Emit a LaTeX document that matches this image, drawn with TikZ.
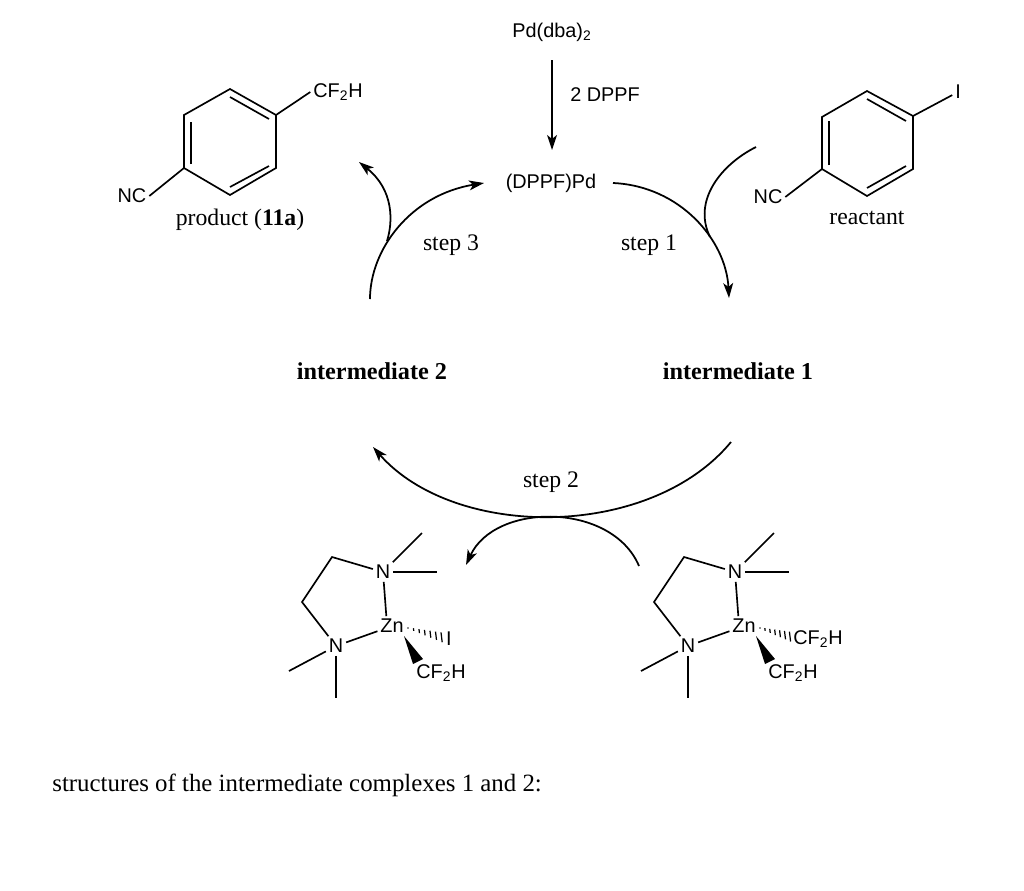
\documentclass[tikz,border=0pt]{standalone}
\usepackage{fontspec}
\setmainfont{Liberation Serif}
\setsansfont{Liberation Sans}
\usetikzlibrary{arrows.meta}
\tikzset{
    atom/.style={font=\sffamily\fontsize{11.3}{13}\selectfont, inner sep=1.5pt},
    serif/.style={font=\fontsize{13.5}{16}\selectfont, inner sep=0pt},
    boldserif/.style={font=\bfseries\fontsize{13.8}{16}\selectfont, inner sep=0pt},
    bond/.style={line width=0.95pt},
    hash/.style={line width=0.7pt},
    curved/.style={line width=1pt, -{Stealth[length=8.5pt, width=5.6pt, inset=2.2pt]}},
    plain/.style={line width=1pt}
}
\begin{document}
\begin{tikzpicture}[x=0.02cm, y=-0.02cm]
    \useasboundingbox (0,0) rectangle (1024,890);

    % Catalyst and cycle labels
    \node[atom] (pddba) at (552,32) {Pd(dba)\textsubscript{2}};
    \node[atom] (dppfpd) at (551,183) {(DPPF)Pd};
    \node[atom] (dppf) at (605,95) {2 DPPF};
    \node[serif] (stepone) at (649,245) {step 1};
    \node[serif] (steptwo) at (551,482) {step 2};
    \node[serif] (stepthree) at (451,245) {step 3};
    \node[boldserif] (inttwo) at (372,371) {intermediate 2};
    \node[boldserif] (intone) at (738,371) {intermediate 1};
    \node[serif, anchor=west, font=\fontsize{14.15}{16}\selectfont] (caption) at (52,785) {structures of the intermediate complexes 1 and 2:};

    % Cycle arrows
    \coordinate (dbastart) at (552,60);
    \coordinate (dbaend) at (552,150);
    \coordinate (onestart) at (613,183);
    \coordinate (oneend) at (729,298);
    \coordinate (threestart) at (370,299);
    \coordinate (threeend) at (484,183);
    \coordinate (prodstart) at (387,241);
    \coordinate (prodend) at (359,162);
    \coordinate (reactstart) at (756,147);
    \coordinate (reactend) at (710,237);
    \coordinate (twostart) at (731,442);
    \coordinate (twoend) at (373,447);
    \coordinate (zincstart) at (639,566);
    \coordinate (zincend) at (466,565);
    \draw[curved] (dbastart) -- (dbaend);
    \draw[curved] (onestart) .. controls (680,186) and (726,240) .. (oneend);
    \draw[plain] (reactstart) .. controls (722,164) and (692,200) .. (reactend);
    \draw[curved] (threestart) .. controls (370,250) and (410,195) .. (threeend);
    \draw[curved] (prodstart) .. controls (393,222) and (394,190) .. (prodend);
    \draw[curved] (twostart) .. controls (650,540) and (455,540) .. (twoend);
    \draw[curved] (zincstart) .. controls (612,502) and (495,502) .. (zincend);

    % Product ring
    \foreach \n/\x/\y in {a/230/89, b/276/115, c/276/168, d/230/195, e/184/168, f/184/115,
        g/230/97, h/269/119, i/269/166, j/230/187, k/191/164, l/191/122}
        \coordinate (pr\n) at (\x,\y);
    \node[atom] (prodcf) at (338,92) {CF\textsubscript{2}H};
    \node[atom] (prodnc) at (132,196) {NC};
    \node[serif] (product) at (240,220) {product (\textbf{11a})};
    \draw[bond] (pra) -- (prb) -- (prc) -- (prd) -- (pre) -- (prf) -- cycle;
    \draw[bond] (prg) -- (prh);
    \draw[bond] (pri) -- (prj);
    \draw[bond] (prk) -- (prl);
    \draw[bond] (prb) -- (prodcf.west);
    \draw[bond] (pre) -- (prodnc.east);

    % Reactant ring
    \foreach \n/\x/\y in {a/867/91, b/913/116, c/913/169, d/867/196, e/822/169, f/822/117,
        g/867/99, h/906/121, i/906/166, j/867/188, k/829/165, l/829/121}
        \coordinate (re\n) at (\x,\y);
    \node[atom] (reactiod) at (958,92) {I};
    \node[atom] (reactnc) at (768,197) {NC};
    \node[serif] (reactant) at (867,218) {reactant};
    \draw[bond] (rea) -- (reb) -- (rec) -- (red) -- (ree) -- (ref) -- cycle;
    \draw[bond] (reg) -- (reh);
    \draw[bond] (rei) -- (rej);
    \draw[bond] (rek) -- (rel);
    \draw[bond] (reb) -- (reactiod);
    \draw[bond] (ree) -- (reactnc.east);

    % Intermediate 2 complex
    \node[atom] (ltopn) at (383,572) {N};
    \node[atom] (lzn) at (392,626) {Zn};
    \node[atom] (lbotn) at (336,646) {N};
    \node[atom] (liod) at (449,639) {I};
    \node[atom] (lcf) at (441,673) {CF\textsubscript{2}H};
    \coordinate (lca) at (332,557);
    \coordinate (lcb) at (302,602);
    \coordinate (lmea) at (422,533);
    \coordinate (lmeb) at (437,572);
    \coordinate (lmec) at (289,671);
    \coordinate (lmed) at (336,698);
    \draw[bond] (ltopn) -- (lca) -- (lcb) -- (lbotn);
    \draw[bond] (ltopn) -- (lmea);
    \draw[bond] (ltopn) -- (lmeb);
    \draw[bond] (lbotn) -- (lmec);
    \draw[bond] (lbotn) -- (lmed);
    \draw[bond] (ltopn) -- (lzn.120);
    \draw[bond] (lbotn) -- (lzn);
    \fill (404,636) -- (413,664) -- (423,659) -- cycle;
    \foreach \t in {0,...,6}
        \draw[hash] ({408+\t*5.6-(0.6+\t*0.72)*0.12},{628+\t*1.55-0.6-\t*0.72}) -- ({408+\t*5.6+(0.6+\t*0.72)*0.12},{628+\t*1.55+0.6+\t*0.72});

    % Intermediate 1 complex
    \node[atom] (rtopn) at (735,572) {N};
    \node[atom] (rzn) at (744,626) {Zn};
    \node[atom] (rbotn) at (688,646) {N};
    \node[atom] (rcfa) at (818,639) {CF\textsubscript{2}H};
    \node[atom] (rcfb) at (793,673) {CF\textsubscript{2}H};
    \coordinate (rca) at (684,557);
    \coordinate (rcb) at (654,602);
    \coordinate (rmea) at (774,533);
    \coordinate (rmeb) at (789,572);
    \coordinate (rmec) at (641,671);
    \coordinate (rmed) at (688,698);
    \draw[bond] (rtopn) -- (rca) -- (rcb) -- (rbotn);
    \draw[bond] (rtopn) -- (rmea);
    \draw[bond] (rtopn) -- (rmeb);
    \draw[bond] (rbotn) -- (rmec);
    \draw[bond] (rbotn) -- (rmed);
    \draw[bond] (rtopn) -- (rzn.120);
    \draw[bond] (rbotn) -- (rzn);
    \fill (756,636) -- (765,664) -- (775,659) -- cycle;
    \foreach \t in {0,...,6}
        \draw[hash] ({760+\t*5-(0.6+\t*0.72)*0.12},{628+\t*1.43-0.6-\t*0.72}) -- ({760+\t*5+(0.6+\t*0.72)*0.12},{628+\t*1.43+0.6+\t*0.72});
\end{tikzpicture}
\end{document}
